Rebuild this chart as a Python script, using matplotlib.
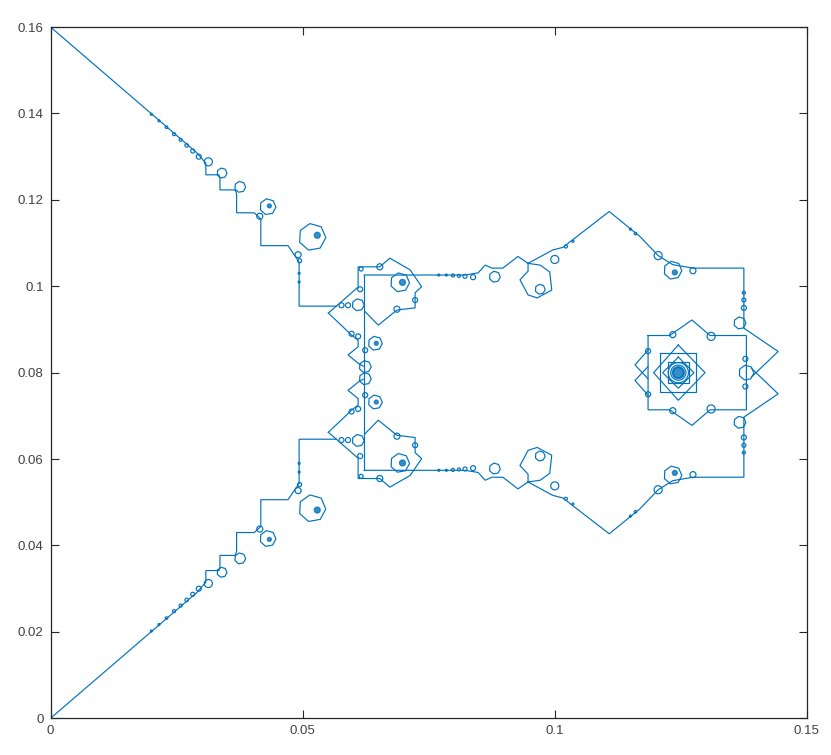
import matplotlib
matplotlib.use('Agg')
import matplotlib.pyplot as plt
from matplotlib.patches import Ellipse

LINE = '#0072BD'
INK = '#262626'

# ------------------------------------------------------------------ #
# Curve skeleton (upper half / lower half)
# ------------------------------------------------------------------ #
arm_top = [(0.0000, 0.1600), (0.0290, 0.1309), (0.0308, 0.1285), (0.0308, 0.1258),
           (0.0334, 0.1258), (0.0336, 0.1251), (0.0336, 0.1223), (0.0366, 0.1223),
           (0.0369, 0.1214), (0.0369, 0.1170), (0.0404, 0.1170), (0.0417, 0.1156),
           (0.0417, 0.1094), (0.0471, 0.1094), (0.0493, 0.1056), (0.0493, 0.0954),
           (0.0567, 0.0954)]
arm_bot = [(0.0000, 0.0000), (0.0290, 0.0291), (0.0308, 0.0315), (0.0308, 0.0342),
           (0.0334, 0.0342), (0.0336, 0.0349), (0.0336, 0.0377), (0.0366, 0.0377),
           (0.0369, 0.0386), (0.0369, 0.0430), (0.0404, 0.0430), (0.0417, 0.0444),
           (0.0417, 0.0506), (0.0471, 0.0506), (0.0493, 0.0544), (0.0493, 0.0646),
           (0.0567, 0.0646)]

pent_top = [(0.0551, 0.0938), (0.0610, 0.0998), (0.0610, 0.1045), (0.0653, 0.1045),
            (0.0673, 0.1065), (0.0713, 0.1038), (0.0736, 0.0999), (0.0723, 0.0985),
            (0.0723, 0.0950), (0.0687, 0.0945), (0.0650, 0.0910), (0.0624, 0.0941)]
pent_bot = [(0.0551, 0.0662), (0.0610, 0.0602), (0.0610, 0.0555), (0.0653, 0.0555),
            (0.0673, 0.0535), (0.0713, 0.0562), (0.0736, 0.0601), (0.0723, 0.0615),
            (0.0723, 0.0650), (0.0687, 0.0655), (0.0650, 0.0690), (0.0624, 0.0659)]

col_top = [(0.0551, 0.0938), (0.0597, 0.0887), (0.0610, 0.0875), (0.0610, 0.0860),
           (0.0590, 0.0841), (0.0610, 0.0822), (0.0620, 0.0815)]
col_bot = [(0.0551, 0.0662), (0.0597, 0.0713), (0.0610, 0.0725), (0.0610, 0.0740),
           (0.0590, 0.0759), (0.0610, 0.0778), (0.0620, 0.0785)]

spine = [(0.0622, 0.1026), (0.0622, 0.0574)]

bridge_top = [(0.0622, 0.1026), (0.0822, 0.1026), (0.0848, 0.1031), (0.0862, 0.1049),
              (0.0875, 0.1042), (0.0897, 0.1042), (0.0927, 0.1069), (0.0947, 0.1053),
              (0.0996, 0.1084), (0.1016, 0.1090), (0.1108, 0.1173), (0.1169, 0.1115),
              (0.1205, 0.1071), (0.1234, 0.1050), (0.1274, 0.1042), (0.1375, 0.1042),
              (0.1375, 0.0903), (0.1443, 0.0849), (0.1390, 0.0790)]
bridge_bot = [(0.0622, 0.0574), (0.0822, 0.0574), (0.0848, 0.0569), (0.0862, 0.0551),
              (0.0875, 0.0558), (0.0897, 0.0558), (0.0927, 0.0531), (0.0947, 0.0547),
              (0.0996, 0.0516), (0.1016, 0.0510), (0.1108, 0.0427), (0.1169, 0.0485),
              (0.1205, 0.0529), (0.1234, 0.0550), (0.1274, 0.0558), (0.1375, 0.0558),
              (0.1375, 0.0697), (0.1443, 0.0751), (0.1390, 0.0810)]

box_top = [(0.0947, 0.1053), (0.0947, 0.1035), (0.0931, 0.1015), (0.0947, 0.0980),
           (0.0965, 0.0973), (0.0994, 0.0991), (0.0990, 0.1033), (0.0971, 0.1049),
           (0.0947, 0.1053)]
box_bot = [(0.0947, 0.0547), (0.0947, 0.0565), (0.0931, 0.0585), (0.0947, 0.0620),
           (0.0965, 0.0627), (0.0994, 0.0609), (0.0990, 0.0567), (0.0971, 0.0551),
           (0.0947, 0.0547)]

rect = [(0.1185, 0.0886), (0.1228, 0.0886), (0.1272, 0.0922), (0.1308, 0.0886),
        (0.1380, 0.0886), (0.1380, 0.0714), (0.1308, 0.0714), (0.1272, 0.0678),
        (0.1228, 0.0714), (0.1185, 0.0714), (0.1185, 0.0886)]

star_diamond = [(0.1245, 0.0864), (0.1298, 0.0800), (0.1245, 0.0736), (0.1196, 0.0800),
                (0.1245, 0.0864)]
star_square = [(0.1209, 0.0845), (0.1281, 0.0845), (0.1281, 0.0755), (0.1209, 0.0755),
               (0.1209, 0.0845)]
inner_diamond = [(0.1245, 0.0836), (0.1276, 0.0800), (0.1245, 0.0764), (0.1214, 0.0800),
                 (0.1245, 0.0836)]
inner_square = [(0.1224, 0.0824), (0.1266, 0.0824), (0.1266, 0.0776), (0.1224, 0.0776),
                (0.1224, 0.0824)]

chevron_top = [(0.1185, 0.0852), (0.1159, 0.0818), (0.1185, 0.0786)]
chevron_bot = [(0.1185, 0.0814), (0.1159, 0.0782), (0.1185, 0.0748)]

paths = [arm_top, arm_bot, pent_top, pent_bot, col_top, col_bot, spine,
         bridge_top, bridge_bot, box_top, box_bot, rect, star_diamond,
         star_square, inner_diamond, inner_square, chevron_top, chevron_bot]

# small loops hanging off the curve: centre and radius (x units)
loop_x = [
    0.0200, 0.0215, 0.0230, 0.0245, 0.0258, 0.0270, 0.0282, 0.0294,
    0.0313, 0.0415, 0.0491, 0.0494, 0.0493, 0.0493,
    0.0200, 0.0215, 0.0230, 0.0245, 0.0258, 0.0270, 0.0282, 0.0294,
    0.0313, 0.0415, 0.0491, 0.0494, 0.0493, 0.0493,
    0.0577, 0.0590, 0.0614, 0.0597, 0.0610, 0.0624, 0.0653, 0.0687, 0.0723, 0.0616,
    0.0577, 0.0590, 0.0614, 0.0597, 0.0610, 0.0624, 0.0653, 0.0687, 0.0723, 0.0616,
    0.0770, 0.0785, 0.0798, 0.0810, 0.0822, 0.0838, 0.1000, 0.1022, 0.1036, 0.1150, 0.1160,
    0.0770, 0.0785, 0.0798, 0.0810, 0.0822, 0.0838, 0.1000, 0.1022, 0.1036, 0.1150, 0.1160,
    0.1205, 0.1274, 0.1375, 0.1375, 0.1375, 0.1234, 0.1310,
    0.1205, 0.1274, 0.1375, 0.1375, 0.1375, 0.1234, 0.1310,
    0.1378, 0.1378, 0.1185, 0.1185,
    0.1245, 0.1245, 0.1245,
]
loop_y = [
    0.1398, 0.1383, 0.1368, 0.1352, 0.1339, 0.1326, 0.1313, 0.1300,
    0.1288, 0.1162, 0.1073, 0.1059, 0.1030, 0.1010,
    0.0202, 0.0217, 0.0232, 0.0248, 0.0261, 0.0274, 0.0287, 0.0300,
    0.0312, 0.0438, 0.0527, 0.0541, 0.0570, 0.0590,
    0.0956, 0.0956, 0.0993, 0.0890, 0.0884, 0.0852, 0.1045, 0.0947, 0.0968, 0.1040,
    0.0644, 0.0644, 0.0607, 0.0710, 0.0716, 0.0748, 0.0555, 0.0653, 0.0632, 0.0560,
    0.1026, 0.1026, 0.1025, 0.1024, 0.1023, 0.1021, 0.1062, 0.1092, 0.1104, 0.1132, 0.1122,
    0.0574, 0.0574, 0.0575, 0.0576, 0.0577, 0.0579, 0.0538, 0.0508, 0.0496, 0.0468, 0.0478,
    0.1071, 0.1036, 0.0985, 0.0968, 0.0950, 0.0888, 0.0884,
    0.0529, 0.0564, 0.0615, 0.0632, 0.0650, 0.0712, 0.0716,
    0.0832, 0.0768, 0.0850, 0.0750,
    0.0800, 0.0800, 0.0800,
]
loop_r = [
    0.0002, 0.0002, 0.00025, 0.0003, 0.0003, 0.00035, 0.0004, 0.0005,
    0.0008, 0.0006, 0.0006, 0.0004, 0.0002, 0.0002,
    0.0002, 0.0002, 0.00025, 0.0003, 0.0003, 0.00035, 0.0004, 0.0005,
    0.0008, 0.0006, 0.0006, 0.0004, 0.0002, 0.0002,
    0.0005, 0.0005, 0.0005, 0.0005, 0.0005, 0.0005, 0.0006, 0.0006, 0.0005, 0.0004,
    0.0005, 0.0005, 0.0005, 0.0005, 0.0005, 0.0005, 0.0006, 0.0006, 0.0005, 0.0004,
    0.0002, 0.0002, 0.0003, 0.0003, 0.0004, 0.0005, 0.0008, 0.0003, 0.0002, 0.0002, 0.00025,
    0.0002, 0.0002, 0.0003, 0.0003, 0.0004, 0.0005, 0.0008, 0.0003, 0.0002, 0.0002, 0.00025,
    0.0008, 0.0006, 0.0003, 0.0004, 0.0005, 0.0006, 0.0008,
    0.0008, 0.0006, 0.0003, 0.0004, 0.0005, 0.0006, 0.0008,
    0.0005, 0.0005, 0.0005, 0.0005,
    0.0010, 0.0015, 0.0020,
]

# larger flower-shaped loops: centre, radius (x units), and their dense core
flower_x = [0.0340, 0.0376, 0.0431, 0.0519, 0.0340, 0.0376, 0.0431, 0.0519,
            0.0610, 0.0644, 0.0624, 0.0693, 0.0610, 0.0644, 0.0624, 0.0693,
            0.0881, 0.0971, 0.0881, 0.0971,
            0.1234, 0.1367, 0.1234, 0.1367, 0.1380]
flower_y = [0.1262, 0.1230, 0.1184, 0.1114, 0.0338, 0.0370, 0.0416, 0.0486,
            0.0957, 0.0868, 0.0814, 0.1009, 0.0643, 0.0732, 0.0786, 0.0591,
            0.1022, 0.0993, 0.0578, 0.0607,
            0.1037, 0.0915, 0.0563, 0.0685, 0.0800]
flower_r = [0.0010, 0.0011, 0.0016, 0.0027, 0.0010, 0.0011, 0.0016, 0.0027,
            0.0012, 0.0014, 0.0012, 0.0019, 0.0012, 0.0014, 0.0012, 0.0019,
            0.0011, 0.0010, 0.0011, 0.0010,
            0.0018, 0.0012, 0.0018, 0.0012, 0.0015]
core_x = [0.0434, 0.0529, 0.0434, 0.0529, 0.0698, 0.0698, 0.0646, 0.0646,
          0.1238, 0.1238, 0.1245]
core_y = [0.1186, 0.1118, 0.0414, 0.0482, 0.1009, 0.0591, 0.0868, 0.0732,
          0.1032, 0.0568, 0.0800]
core_r = [0.0004, 0.0006, 0.0004, 0.0006, 0.0006, 0.0006, 0.0004, 0.0004,
          0.0005, 0.0005, 0.0012]

x_ticks = [0, 0.05, 0.1, 0.15]
x_labels = ['0', '0.05', '0.1', '0.15']
y_ticks = [0, 0.02, 0.04, 0.06, 0.08, 0.1, 0.12, 0.14, 0.16]
y_labels = ['0', '0.02', '0.04', '0.06', '0.08', '0.1', '0.12', '0.14', '0.16']

# ------------------------------------------------------------------ #
plt.rcParams['font.family'] = ['Liberation Sans', 'DejaVu Sans']

DPI = 100
fig = plt.figure(figsize=(8.31, 7.55), dpi=DPI)
ax = fig.add_axes([0.0608, 0.0486, 0.9102, 0.9156])
ax.set_xlim(0, 0.15)
ax.set_ylim(0, 0.16)

LW = 0.85
for p in paths:
    xs = [q[0] for q in p]
    ys = [q[1] for q in p]
    ax.plot(xs, ys, color=LINE, lw=LW, solid_joinstyle='miter')

# keep loops round on screen despite unequal x/y scales
pos = ax.get_position()
px_x = pos.width * fig.get_figwidth() * DPI / 0.15
px_y = pos.height * fig.get_figheight() * DPI / 0.16
k = px_x / px_y
for x, y, r in zip(loop_x, loop_y, loop_r):
    ax.add_patch(Ellipse((x, y), 2 * r, 2 * r * k, fill=False,
                         edgecolor=LINE, lw=LW))

# flowers as heptagon outlines (size in points^2 from radius in x units)
to_pt = px_x * 72 / DPI
ax.scatter(flower_x, flower_y, s=[(2 * r * to_pt) ** 2 for r in flower_r],
           marker=(7, 0, 10), facecolors='none', edgecolors=LINE,
           linewidths=LW, zorder=3)
ax.scatter(core_x, core_y, s=[(2 * r * to_pt) ** 2 for r in core_r],
           marker='o', facecolors=LINE, edgecolors=LINE, alpha=0.8,
           linewidths=LW, zorder=3)

ax.set_xticks(x_ticks)
ax.set_xticklabels(x_labels)
ax.set_yticks(y_ticks)
ax.set_yticklabels(y_labels)
ax.tick_params(direction='in', length=6, width=0.8, color=INK,
               labelcolor='#404040', labelsize=9.5, top=True, right=True, pad=5)
for s in ax.spines.values():
    s.set_color(INK)
    s.set_linewidth(0.9)

fig.savefig('out.png', dpi=DPI)
